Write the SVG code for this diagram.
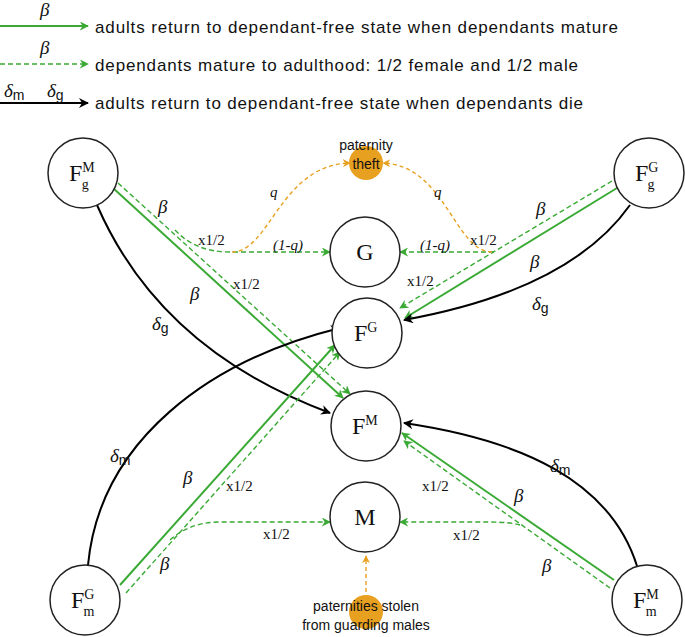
<svg xmlns="http://www.w3.org/2000/svg" width="685" height="637" viewBox="0 0 685 637">
<defs>
<marker id="ag" viewBox="0 0 10 10" refX="9" refY="5" markerWidth="9" markerHeight="9" markerUnits="userSpaceOnUse" orient="auto"><path d="M0,0 L10,5 L0,10 L3,5 z" fill="#3aaa35"/></marker>
<marker id="ak" viewBox="0 0 10 10" refX="9" refY="5" markerWidth="10" markerHeight="10" markerUnits="userSpaceOnUse" orient="auto"><path d="M0,0 L10,5 L0,10 L3,5 z" fill="#000"/></marker>
<marker id="ao" viewBox="0 0 10 10" refX="9" refY="5" markerWidth="8" markerHeight="8" markerUnits="userSpaceOnUse" orient="auto"><path d="M0,0 L10,5 L0,10 L3,5 z" fill="#e8a020"/></marker>
</defs>
<style>
.n{fill:#fff;stroke:#222;stroke-width:1.5}
.s{fill:none;stroke:#3aaa35;stroke-width:2;marker-end:url(#ag)}
.d{fill:none;stroke:#3aaa35;stroke-width:1.4;stroke-dasharray:5,3;marker-end:url(#ag)}
.k{fill:none;stroke:#000;stroke-width:2;marker-end:url(#ak)}
.o{fill:none;stroke:#e8a020;stroke-width:1.4;stroke-dasharray:4,3;marker-end:url(#ao)}
.lg{font-family:"Liberation Sans","Open Sans",sans-serif;font-size:17px;fill:#111}
.nl{font-family:"Liberation Serif",serif;font-size:24px;fill:#111}
.sup{font-size:14px}
.b{font-family:"Liberation Serif",serif;font-style:italic;font-size:19px;fill:#111}
.x{font-family:"Liberation Serif",serif;font-size:15px;fill:#111}
.q{font-family:"Liberation Serif",serif;font-style:italic;font-size:15px;fill:#111}
.sm{font-family:"Liberation Sans","Open Sans",sans-serif;font-size:14px;fill:#111}
.sb{font-family:"Liberation Sans","Open Sans",sans-serif;font-size:14px;font-style:normal}
</style>
<g id="legend">
<line x1="0" y1="26" x2="88" y2="26" class="s"/>
<text x="40" y="16" class="b">β</text>
<text x="95" y="33" class="lg" textLength="523">adults return to dependant-free state when dependants mature</text>
<line x1="0" y1="64" x2="88" y2="64" class="d"/>
<text x="40" y="54" class="b">β</text>
<text x="95" y="71" class="lg" textLength="483">dependants mature to adulthood: 1/2 female and 1/2 male</text>
<line x1="0" y1="103" x2="88" y2="103" class="k"/>
<text x="4" y="97" class="b">δ<tspan class="sb" dy="3">m</tspan></text>
<text x="47" y="97" class="b">δ<tspan class="sb" dy="3">g</tspan></text>
<text x="95" y="109" class="lg" textLength="488">adults return to dependant-free state when dependants die</text>
</g>
<g id="connectors">
<path d="M97,205 Q160,350 330,413" class="k"/>
<path d="M113,188 L343,398" class="s"/>
<path d="M118,183 L350,394" class="d"/>
<path d="M175,230 Q195,252 230,252 L330,252" class="d"/>
<path d="M232,252 C270,252 280,165 350,163" class="o"/>
<path d="M617,188 L405,318" class="s"/>
<path d="M612,181 L400,308" class="d"/>
<path d="M494,252 L400,252" class="d"/>
<path d="M492,252 C455,252 445,165 383,163" class="o"/>
<path d="M630,205 Q570,290 404,320" class="k"/>
<path d="M88,565 C100,440 210,360 340,328" class="k"/>
<path d="M120,585 L335,345" class="s"/>
<path d="M126,593 L340,352" class="d"/>
<path d="M170,540 Q190,522 220,522 L330,522" class="d"/>
<path d="M637,566 C610,480 520,440 404,423" class="k"/>
<path d="M614,580 L402,433" class="s"/>
<path d="M610,588 L404,441" class="d"/>
<path d="M520,525 Q510,522 490,522 L400,522" class="d"/>
<path d="M366,592 L366,556" class="o"/>
</g>
<g id="labels">
<text x="158" y="213" class="b">β</text>
<text x="190" y="300" class="b">β</text>
<text x="152" y="330" class="b">δ<tspan class="sb" dy="3">g</tspan></text>
<text x="198" y="245" class="x">x1/2</text>
<text x="233" y="289" class="x">x1/2</text>
<text x="270" y="197" class="q">q</text>
<text x="273" y="250" class="q">(1-q)</text>
<text x="536" y="215" class="b">β</text>
<text x="530" y="268" class="b">β</text>
<text x="532" y="310" class="b">δ<tspan class="sb" dy="3">g</tspan></text>
<text x="470" y="245" class="x">x1/2</text>
<text x="407" y="286" class="x">x1/2</text>
<text x="434" y="197" class="q">q</text>
<text x="420" y="250" class="q">(1-q)</text>
<text x="110" y="462" class="b">δ<tspan class="sb" dy="3">m</tspan></text>
<text x="183" y="484" class="b">β</text>
<text x="160" y="570" class="b">β</text>
<text x="226" y="491" class="x">x1/2</text>
<text x="263" y="539" class="x">x1/2</text>
<text x="550" y="472" class="b">δ<tspan class="sb" dy="3">m</tspan></text>
<text x="514" y="502" class="b">β</text>
<text x="542" y="572" class="b">β</text>
<text x="422" y="491" class="x">x1/2</text>
<text x="453" y="540" class="x">x1/2</text>
</g>
<g id="theft"><circle cx="366" cy="163" r="17" fill="#e8a020"/><text x="366" y="150" class="sm" text-anchor="middle">paternity</text><text x="366" y="169" class="sm" text-anchor="middle">theft</text></g>
<g id="stolen"><circle cx="366" cy="612" r="17" fill="#e8a020"/><text x="366" y="611" class="sm" text-anchor="middle">paternities stolen</text><text x="366" y="630" class="sm" text-anchor="middle">from guarding males</text></g>
<g id="FgM"><circle cx="83" cy="173" r="35" class="n"/><text x="69" y="181" class="nl">F<tspan class="sup" dy="-9">M</tspan><tspan class="sup" dx="-13" dy="17">g</tspan></text></g>
<g id="FgG"><circle cx="649" cy="173" r="35" class="n"/><text x="635" y="181" class="nl">F<tspan class="sup" dy="-9">G</tspan><tspan class="sup" dx="-11" dy="17">g</tspan></text></g>
<g id="G"><circle cx="365" cy="252" r="35" class="n"/><text x="365" y="260" class="nl" text-anchor="middle">G</text></g>
<g id="FG"><circle cx="367" cy="333" r="35" class="n"/><text x="354" y="341" class="nl">F<tspan class="sup" dy="-9">G</tspan></text></g>
<g id="FM"><circle cx="366" cy="426" r="35" class="n"/><text x="352" y="434" class="nl">F<tspan class="sup" dy="-9">M</tspan></text></g>
<g id="M"><circle cx="365" cy="517" r="35" class="n"/><text x="365" y="525" class="nl" text-anchor="middle">M</text></g>
<g id="FmG"><circle cx="85" cy="600" r="35" class="n"/><text x="71" y="608" class="nl">F<tspan class="sup" dy="-9">G</tspan><tspan class="sup" dx="-11" dy="17">m</tspan></text></g>
<g id="FmM"><circle cx="647" cy="600" r="35" class="n"/><text x="633" y="608" class="nl">F<tspan class="sup" dy="-9">M</tspan><tspan class="sup" dx="-13" dy="17">m</tspan></text></g>
</svg>
